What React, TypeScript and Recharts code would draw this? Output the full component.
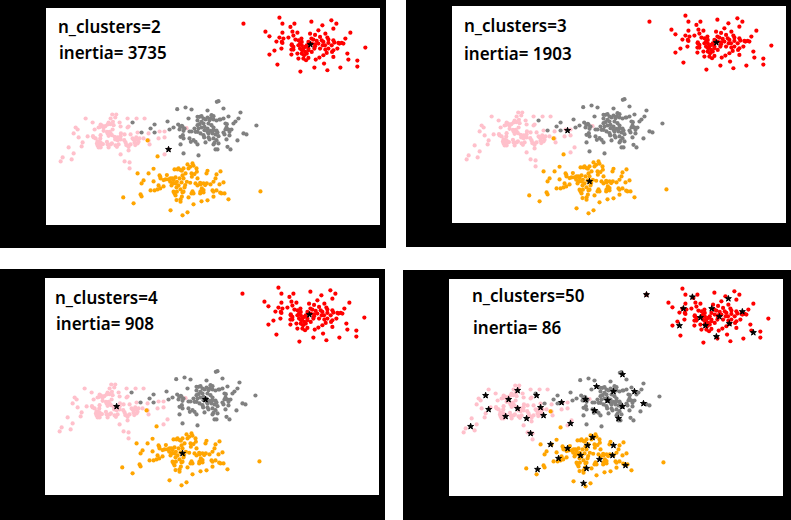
import React from "react";
import { ReferenceArea, Scatter, ScatterChart, Symbols, XAxis, YAxis } from "recharts";

type Pt = [number, number];

// values, the axes are not visible so units are arbitrary
const redPts: Pt[] = [[593,605],[701,623],[710,605],[734,595],[746,605],[797,611],[830,600],[857,615],[872,605],[863,590],[914,578],[659,581],[671,567],[710,578],[701,563],[692,551],[710,547],[728,563],[740,581],[743,569],[755,578],[767,560],[749,557],[793,575],[808,571],[818,585],[839,575],[845,563],[863,555],[866,548],[881,545],[893,545],[899,560],[797,560],[788,550],[803,557],[818,545],[831,540],[848,547],[823,530],[806,530],[743,535],[737,527],[758,540],[768,540],[763,530],[778,535],[783,540],[755,515],[769,525],[778,520],[775,510],[783,515],[788,502],[737,512],[758,500],[781,495],[810,497],[821,503],[833,510],[843,517],[859,520],[863,505],[835,485],[806,473],[845,465],[884,473],[875,530],[905,515],[908,497],[935,494],[935,476],[959,533],[764,461],[695,482],[671,512],[686,524],[707,530],[839,527],[848,530],[798,545],[808,537],[738,540],[768,550],[833,550],[788,525],[758,555],[738,543],[743,527],[763,545],[773,530],[788,530],[798,520],[808,543],[813,553],[823,565],[828,555],[838,540],[848,557],[858,540],[878,547],[888,547],[863,525],[773,500],[768,515],[713,560],[708,550]];
const grayPts: Pt[] = [[513,370],[518,372],[485,344],[533,350],[394,348],[419,353],[437,347],[584,338],[260,308],[326,302],[314,290],[287,278],[326,278],[365,311],[383,293],[371,287],[397,302],[410,295],[416,290],[401,287],[413,283],[404,265],[413,260],[404,242],[413,215],[458,209],[428,320],[455,325],[467,327],[497,330],[494,320],[479,317],[455,314],[503,317],[512,314],[524,317],[533,320],[548,326],[578,320],[569,311],[563,305],[632,299],[539,305],[542,293],[548,287],[557,287],[533,278],[593,275],[602,272],[575,254],[542,257],[503,285],[473,305],[461,303],[467,293],[476,295],[485,290],[497,300],[503,293],[488,305],[476,285],[455,280],[464,275],[437,281],[431,281],[431,260],[443,255],[449,250],[455,242],[479,248],[488,263],[503,260],[515,278],[509,272],[512,255],[503,242],[518,245],[545,235],[554,227],[509,227],[515,227],[536,272],[551,269],[473,270],[488,275],[512,284],[461,325],[473,320],[485,323],[491,315],[467,310],[455,300],[446,290],[449,280],[458,290],[485,280],[494,283],[500,275],[491,257],[518,267],[506,247],[521,317],[503,327],[475,263],[411,270],[408,298],[403,295],[543,303],[551,280],[539,287],[435,250]];
const pinkPts: Pt[] = [[199,332],[211,332],[119,320],[194,320],[245,320],[272,320],[296,320],[140,308],[188,308],[221,308],[185,302],[164,302],[89,293],[95,287],[158,293],[173,293],[146,287],[200,287],[224,296],[245,293],[248,296],[83,275],[98,263],[125,266],[143,263],[149,260],[164,270],[185,275],[194,275],[188,268],[173,283],[206,265],[215,263],[224,267],[236,272],[254,272],[275,278],[308,275],[341,281],[356,281],[356,263],[338,260],[281,260],[272,257],[260,260],[239,248],[245,239],[254,242],[266,248],[275,245],[308,254],[311,242],[155,251],[164,248],[155,239],[164,233],[185,242],[194,242],[188,233],[209,239],[218,242],[224,257],[110,248],[107,236],[68,233],[83,215],[50,203],[44,191],[77,197],[224,212],[248,224],[368,227],[356,212],[236,191],[251,188],[251,170],[422,291],[158,233],[167,242],[163,295],[168,299],[178,297],[193,303],[201,310],[208,323],[203,300],[183,280],[191,280],[198,270],[208,257],[215,255],[163,260],[153,245],[161,243],[171,243],[183,250],[198,245],[213,235],[263,257],[271,263],[278,250],[268,240],[248,235],[241,240],[293,260],[141,267],[225,275],[235,255],[159,250]];
const orangePts: Pt[] = [[305,254],[335,206],[644,101],[232,83],[263,65],[275,155],[308,155],[323,169],[293,134],[287,125],[341,149],[344,140],[359,137],[323,131],[314,104],[326,104],[338,119],[353,116],[335,107],[284,92],[287,86],[374,44],[410,29],[425,38],[386,167],[395,167],[404,165],[413,170],[425,182],[440,185],[428,170],[452,170],[437,155],[446,153],[455,140],[485,163],[482,155],[524,161],[512,152],[509,140],[533,128],[521,122],[494,122],[473,125],[464,122],[455,119],[449,125],[374,140],[380,140],[389,143],[410,149],[401,140],[419,155],[380,125],[377,119],[389,125],[407,128],[398,119],[392,113],[404,107],[416,113],[386,95],[389,89],[410,98],[440,101],[437,95],[470,103],[464,101],[473,98],[500,104],[512,104],[527,95],[536,95],[503,85],[485,74],[467,71],[443,62],[428,83],[404,77],[392,75],[404,70],[548,77],[398,170],[408,163],[433,175],[443,178],[453,160],[343,145],[353,135],[373,130],[383,135],[393,130],[413,140],[423,130],[433,127],[463,127],[483,125],[478,120],[468,110],[473,105],[383,100],[393,100],[413,100],[443,95],[463,95],[408,85],[503,100],[523,97],[363,150],[368,137],[343,110],[503,130],[438,145],[418,120]];

const centers2: Pt[] = [[794,542],[368,227]];
const centers3: Pt[] = [[794,542],[347,278],[413,125]];
const centers4: Pt[] = [[794,542],[215,266],[482,287],[413,125]];
const centers50: Pt[] = [
  [593,605],[731,598],[839,593],[704,563],[789,563],[881,554],[755,536],[812,539],[842,518],[692,512],[770,512],[914,491],[803,479],
  [521,365],[443,329],[494,314],[557,314],[410,290],[476,287],[584,278],[338,281],[521,269],[437,257],[509,233],[365,218],
  [431,176],[416,152],[305,155],[356,143],[494,152],[395,122],[491,122],[329,113],[452,110],[530,92],[266,80],[413,83],[404,38],
  [206,317],[110,302],[263,302],[179,290],[275,266],[206,263],[119,260],[284,242],[170,239],[233,233],[65,209],[245,188],
];

const clusterCounts = [2, 3, 4, 50];
const inertias = [3735, 1903, 908, 86];

const W = 334;
const H = 217;

const panels = [
  { box: [0, 0, 386, 248], plot: [46, 8], l1: [58, 27], l2: [59, 53], centers: centers2 },
  { box: [406, 0, 385, 247], plot: [452, 6], l1: [464, 26], l2: [464, 54], centers: centers3 },
  { box: [0, 269, 385, 251], plot: [45, 278], l1: [55, 298], l2: [56, 324], centers: centers4 },
  { box: [403, 270, 388, 250], plot: [449, 279], l1: [472, 296], l2: [473, 328], centers: centers50 },
];

const toRows = (pts: Pt[]) => pts.map(([x, y]) => ({ x, y }));

const Dot = (props: any) => <circle cx={props.cx} cy={props.cy} r={2.1} fill={props.fill} />;
const Star = (props: any) => <Symbols cx={props.cx} cy={props.cy} type="star" size={11} fill="#000" stroke="#000" strokeWidth={1} />;

const labelStyle: React.CSSProperties = {
  position: "absolute",
  fontFamily: "'Noto Sans', sans-serif",
  fontWeight: 600,
  fontSize: 17,
  lineHeight: "20px",
  color: "#000",
  whiteSpace: "pre",
  transform: "translateY(-50%)",
};

function Panel({ p, i }: { p: (typeof panels)[number]; i: number }) {
  const [bx, by, bw, bh] = p.box;
  return (
    <>
      <div style={{ position: "absolute", left: bx, top: by, width: bw, height: bh, background: "#000" }}>
        <ScatterChart
          width={bw}
          height={bh}
          margin={{ left: p.plot[0] - bx, top: p.plot[1] - by, right: bw - W - (p.plot[0] - bx), bottom: bh - H - (p.plot[1] - by) }}
        >
          <XAxis type="number" dataKey="x" domain={[0, 1003]} hide />
          <YAxis type="number" dataKey="y" domain={[0, 652]} hide />
          <ReferenceArea x1={0} x2={1003} y1={0} y2={652} fill="#fff" fillOpacity={1} />
          <Scatter data={toRows(redPts)} fill="#ff0000" shape={Dot} isAnimationActive={false} />
          <Scatter data={toRows(pinkPts)} fill="#ffc0cb" shape={Dot} isAnimationActive={false} />
          <Scatter data={toRows(orangePts)} fill="#ffa500" shape={Dot} isAnimationActive={false} />
          <Scatter data={toRows(grayPts)} fill="#808080" shape={Dot} isAnimationActive={false} />
          <Scatter data={toRows(p.centers)} fill="#000" shape={Star} isAnimationActive={false} />
        </ScatterChart>
      </div>
      <span style={{ ...labelStyle, left: p.l1[0], top: p.l1[1] }}>{`n_clusters=${clusterCounts[i]}`}</span>
      <span style={{ ...labelStyle, left: p.l2[0], top: p.l2[1] }}>{`inertia= ${inertias[i]}`}</span>
    </>
  );
}

export default function App() {
  return (
    <div style={{ position: "absolute", left: 0, top: 0, width: 791, height: 520, background: "#fff", overflow: "hidden" }}>
      {panels.map((p, i) => (
        <Panel key={i} p={p} i={i} />
      ))}
    </div>
  );
}
